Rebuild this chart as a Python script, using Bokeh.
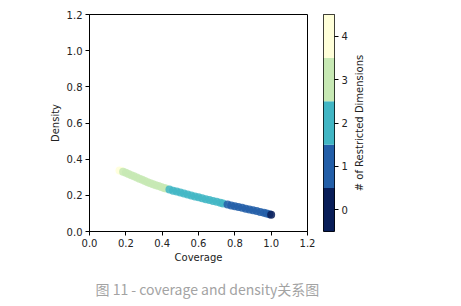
from bokeh.plotting import figure
from bokeh.layouts import row
from bokeh.models import (ColumnDataSource, LinearColorMapper, FixedTicker,
                          Title, Range1d, NumeralTickFormatter)
from bokeh.embed import file_html
from bokeh.resources import INLINE

# ---- data ----
coverage = [0.165, 0.175,
            0.185, 0.20, 0.215, 0.23, 0.245, 0.26, 0.275, 0.29, 0.305, 0.32, 0.335, 0.35,
            0.365, 0.38, 0.395, 0.41, 0.42,
            0.44, 0.46, 0.48, 0.50, 0.52, 0.54, 0.56, 0.58, 0.60, 0.62, 0.64, 0.66, 0.68,
            0.70, 0.72, 0.735,
            0.76, 0.78, 0.80, 0.82, 0.84, 0.86, 0.88, 0.90, 0.92, 0.94, 0.96, 0.975, 0.99,
            1.0]
density = [0.338, 0.335,
           0.331, 0.325, 0.318, 0.311, 0.305, 0.298, 0.292, 0.286, 0.279, 0.273, 0.267, 0.261,
           0.256, 0.251, 0.246, 0.241, 0.238,
           0.232, 0.226, 0.221, 0.216, 0.210, 0.204, 0.199, 0.194, 0.189, 0.184, 0.179, 0.174,
           0.169, 0.164, 0.159, 0.155,
           0.149, 0.144, 0.140, 0.135, 0.131, 0.126, 0.122, 0.117, 0.113, 0.108, 0.104, 0.100,
           0.096,
           0.093]
restricted = [4, 4,
              3, 3, 3, 3, 3, 3, 3, 3, 3, 3, 3, 3, 3, 3, 3, 3, 3,
              2, 2, 2, 2, 2, 2, 2, 2, 2, 2, 2, 2, 2, 2, 2, 2,
              1, 1, 1, 1, 1, 1, 1, 1, 1, 1, 1, 1, 1,
              0]
palette = ["#081d58", "#225ea8", "#41b6c4", "#c7e9b4", "#ffffd9"]
cbar_ticks = [0, 1, 2, 3, 4]
axis_ticks = [0.0, 0.2, 0.4, 0.6, 0.8, 1.0, 1.2]
x_label = "Coverage"
y_label = "Density"
cbar_label = "# of Restricted Dimensions"
caption = "图 11 - coverage and density关系图"

FONT = "DejaVu Sans"
TXT = "#222222"

source = ColumnDataSource(dict(x=coverage, y=density, d=restricted))
mapper = LinearColorMapper(palette=palette, low=-0.5, high=4.5)

# ---------------- main scatter ----------------
p = figure(output_backend="svg", toolbar_location=None,
           frame_width=218, frame_height=217,
           min_border_left=89, min_border_top=14, min_border_right=16, min_border_bottom=5,
           x_range=Range1d(0, 1.2), y_range=Range1d(0, 1.2),
           background_fill_color="white", border_fill_color="white")

p.scatter("x", "y", source=source, size=8,
          fill_color={"field": "d", "transform": mapper}, line_color=None, fill_alpha=0.85)

p.outline_line_color = "black"
p.grid.visible = False
for ax in (p.xaxis, p.yaxis):
    ax.ticker = FixedTicker(ticks=axis_ticks)
    ax.formatter = NumeralTickFormatter(format="0.0")
    ax.minor_tick_line_color = None
    ax.major_tick_in = 0
    ax.major_tick_out = 4
    ax.major_tick_line_color = "black"
    ax.axis_line_color = "black"
    ax.major_label_text_font = FONT
    ax.major_label_text_font_size = "10px"
    ax.major_label_text_color = TXT
    ax.axis_label_text_font = FONT
    ax.axis_label_text_font_size = "10px"
    ax.axis_label_text_font_style = "normal"
    ax.axis_label_text_color = TXT
p.xaxis.axis_label = x_label
p.yaxis.axis_label = y_label
p.xaxis.major_label_standoff = 3
p.yaxis.major_label_standoff = 3
p.xaxis.axis_label_standoff = 2
p.yaxis.axis_label_standoff = 3

p.add_layout(Title(text=caption, align="left", offset=6,
                   text_font="Noto Sans CJK SC", text_font_size="14px",
                   text_font_style="normal", text_color="#a3a3a3", standoff=23), "below")

# ---------------- colour bar ----------------
cb_src = ColumnDataSource(dict(
    bottom=[t - 0.5 for t in cbar_ticks],
    top=[t + 0.5 for t in cbar_ticks],
    color=palette,
))
c = figure(output_backend="svg", toolbar_location=None,
           frame_width=11, frame_height=217,
           min_border_left=0, min_border_top=14, min_border_right=16, min_border_bottom=5,
           x_range=Range1d(0, 1), y_range=Range1d(-0.5, 4.5),
           x_axis_location=None, y_axis_location="right",
           background_fill_color="white", border_fill_color="white")
c.quad(left=0, right=1, bottom="bottom", top="top", fill_color="color",
       line_color=None, source=cb_src)
c.outline_line_color = "black"
c.grid.visible = False
c.yaxis.ticker = FixedTicker(ticks=cbar_ticks)
c.yaxis.minor_tick_line_color = None
c.yaxis.major_tick_in = 0
c.yaxis.major_tick_out = 4
c.yaxis.major_tick_line_color = "black"
c.yaxis.axis_line_color = None
c.yaxis.major_label_text_font = FONT
c.yaxis.major_label_text_font_size = "10px"
c.yaxis.major_label_text_color = TXT
c.yaxis.major_label_standoff = 3

# ---------------- colour-bar label ----------------
lab = figure(output_backend="svg", toolbar_location=None,
             frame_width=1, frame_height=217,
             min_border_left=0, min_border_top=14, min_border_right=0, min_border_bottom=5,
             x_axis_location=None, y_axis_location=None,
             background_fill_color="white", border_fill_color="white")
lab.outline_line_color = None
lab.grid.visible = False
lab.add_layout(Title(text=cbar_label, align="center", text_font=FONT,
                     text_font_size="10px", text_font_style="normal",
                     text_color=TXT, standoff=2), "left")

layout = row(p, c, lab)
open("out.html", "w").write(file_html(layout, INLINE))
